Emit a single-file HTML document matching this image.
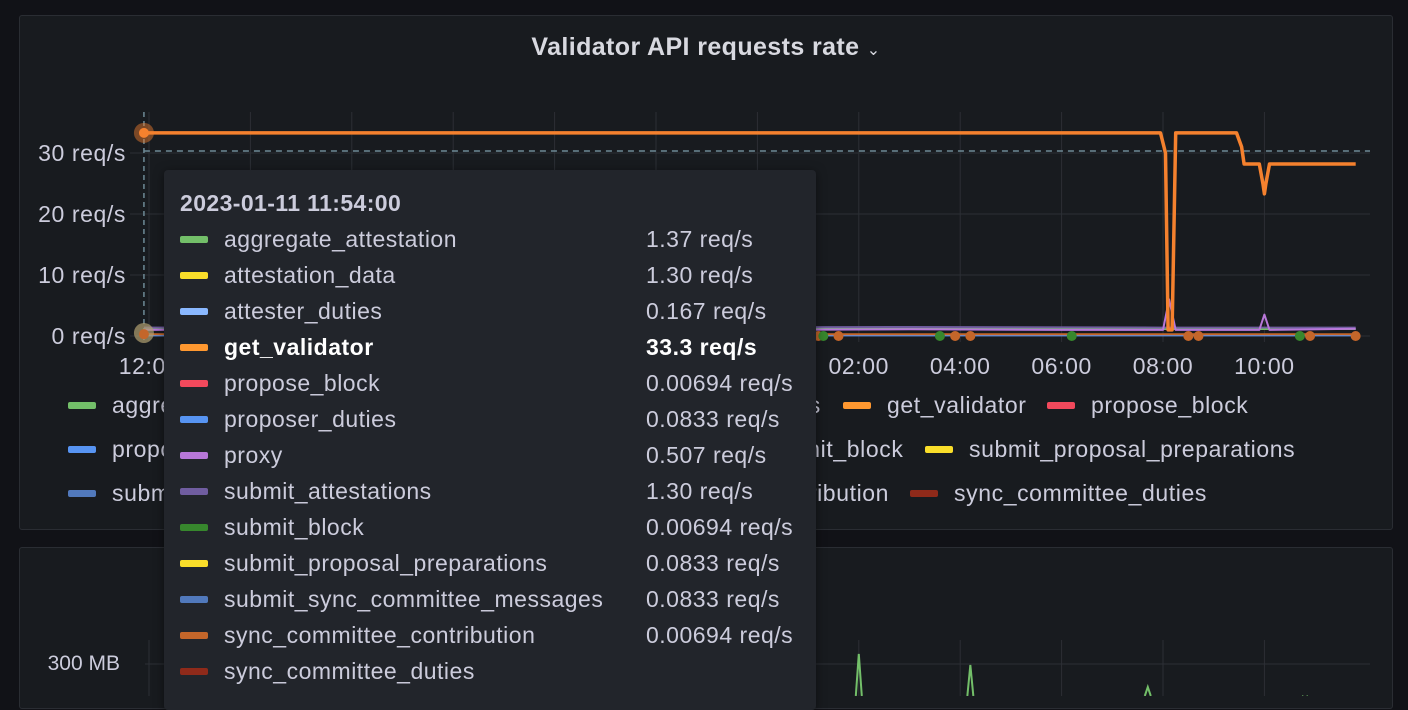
<!DOCTYPE html>
<html><head><meta charset="utf-8">
<style>
html,body{margin:0;padding:0;width:1408px;height:696px;overflow:hidden;background:#111217;font-family:"Liberation Sans",sans-serif;color:#ccccdc}
.panel{position:absolute;background:#181b1f;border:1px solid #2a2d33;border-radius:3px}
.title{position:absolute;top:17px;left:0;width:1372px;text-align:center;font-size:25px;letter-spacing:0.4px;font-weight:bold;color:#d8d9e0}
.leg{position:absolute;font-size:23px;letter-spacing:0.6px;color:#ccccdc;white-space:nowrap;display:flex;align-items:center}
.leg i{display:inline-block;width:28px;height:7px;border-radius:2px;margin-right:16px}
.tt{position:absolute;left:164px;top:170px;width:652px;height:540px;background:#22252b;border-radius:4px;box-shadow:0 2px 10px rgba(0,0,0,.5)}
.tt .h{position:absolute;left:16px;top:20px;font-size:23px;letter-spacing:0.4px;font-weight:bold;color:#ccccdc}
.row{position:absolute;left:16px;font-size:23px;letter-spacing:0.5px;color:#ccccdc;display:flex;align-items:center;white-space:nowrap}
.row i{display:inline-block;width:28px;height:7px;border-radius:2px;margin-right:16px}
.row .v{position:absolute;left:466px}
.row.b{color:#fff;font-weight:bold}
</style></head><body>
<div class="panel" style="left:19px;top:15px;width:1372px;height:513px">
  <div class="title">Validator API requests rate <span style="font-size:16px;font-weight:normal">&#8964;</span></div>
</div>
<div class="panel" style="left:19px;top:547px;width:1372px;height:160px"></div>
<svg id="chart" width="1408" height="696" style="position:absolute;left:0;top:0"></svg>
<div id="legend"></div>
<div class="tt">
  <div class="h">2023-01-11 11:54:00</div>
  <div id="ttrows"></div>
</div>
<script>
const seriesNames=["aggregate_attestation","attestation_data","attester_duties","get_validator","propose_block","proposer_duties","proxy","submit_attestations","submit_block","submit_proposal_preparations","submit_sync_committee_messages","sync_committee_contribution","sync_committee_duties"];
const seriesColors=["#73bf69","#fade2a","#8ab8ff","#ff9830","#f2495c","#5794f2","#b877d9","#705da0","#37872d","#fade2a","#5179bc","#c4662a","#8f2a1a"];
const tooltipValues=["1.37 req/s","1.30 req/s","0.167 req/s","33.3 req/s","0.00694 req/s","0.0833 req/s","0.507 req/s","1.30 req/s","0.00694 req/s","0.0833 req/s","0.0833 req/s","0.00694 req/s",""];
const yTicks=[0,10,20,30];
const xTickLabels=["12:00","14:00","16:00","18:00","20:00","22:00","00:00","02:00","04:00","06:00","08:00","10:00"];
const getValidatorHours=[-0.1,19.95,20.05,20.1,20.18,20.25,20.35,21.45,21.55,21.6,21.9,21.97,22.0,22.03,22.1,23.8];
const getValidatorValues=[33.3,33.3,30,1,1,33.3,33.3,33.3,31,28.2,28.2,25,23.3,25,28.2,28.2];
const proxyHours=[-0.1,3,6,9,12,15,18,20.0,20.12,20.25,21.9,22.0,22.1,23.8];
const proxyValues=[1.0,1.1,1.0,1.2,1.0,1.1,1.0,1.0,6.0,1.0,1.0,3.5,1.0,1.2];
const attHours=[-0.1,5,10,15,20,23.8];
const attValues=[1.3,1.4,1.3,1.4,1.3,1.3];
const lowHours=[-0.1,23.8];
const lowValues=[0.1,0.1];
const contribDotHours=[13.2,13.6,15.9,16.2,20.5,20.7,22.9,23.8];
const blockDotHours=[13.3,15.6,18.2,22.7];
const memTicks=["300 MB"];
const memSpikeHours=[14.0,16.2,19.7,22.8];
const memSpikeValues=[320,310,290,280];

const X0=149,PXH=50.7,Y0=336,PXU=6.1;
const xs=h=>X0+h*PXH, ys=v=>Y0-v*PXU;
const svg=document.getElementById('chart');const NS="http://www.w3.org/2000/svg";
function mk(t,a,p){const e=document.createElementNS(NS,t);for(const k in a)e.setAttribute(k,a[k]);(p||svg).appendChild(e);return e;}
yTicks.forEach(v=>{const l=mk('line',{x1:130,x2:1370,y1:ys(v),y2:ys(v),stroke:'#2c2f35'});

const t=mk('text',{x:126,y:ys(v)+8,'text-anchor':'end','font-size':23,'letter-spacing':0.6,fill:'#ccccdc'});t.textContent=v+' req/s';
});
xTickLabels.forEach((s,i)=>{const x=xs(i*2);const l=mk('line',{x1:x,x2:x,y1:112,y2:342,stroke:'#2c2f35'});

const t=mk('text',{x:x,y:374,'text-anchor':'middle','font-size':23,'letter-spacing':0.6,fill:'#ccccdc'});t.textContent=s;

const g=mk('line',{x1:x,x2:x,y1:640,y2:696,stroke:'#2c2f35'});});
const mg=mk('line',{x1:145,x2:1370,y1:664,y2:664,stroke:'#2c2f35'});
const mt=mk('text',{x:120,y:670,'text-anchor':'end','font-size':21,fill:'#ccccdc'});mt.textContent=memTicks[0];

memSpikeHours.forEach((h,i)=>{const x=xs(h);const top=664+(300-memSpikeValues[i])*0.5+(320-memSpikeValues[i])*0.6;
const p=mk('path',{d:`M${x-3} 696 L${x} ${top} L${x+3} 696`,stroke:'#73bf69','stroke-width':2,fill:'none'});
});
function line(hs,vs,c,w,n){const d=hs.map((h,i)=>(i?'L':'M')+xs(h).toFixed(1)+' '+ys(vs[i]).toFixed(1)).join(' ');
const p=mk('path',{d:d,stroke:c,'stroke-width':w,fill:'none','stroke-linejoin':'round'});}
line(lowHours,lowValues,'#5794f2',2,'low-series-line');
line(lowHours,[0.3,0.3],'#c4662a',2,'contribution-line');
line(attHours,attValues,'#705da0',3,'submit-attestations-line');
line(attHours,attValues.map(v=>v-0.2),'#73bf69',1.5,'aggregate-attestation-line');
line(proxyHours,proxyValues,'#b877d9',2,'proxy-line');
line(getValidatorHours,getValidatorValues,'#f5812e',3.5,'get-validator-line');
contribDotHours.forEach(h=>{const c=mk('circle',{cx:xs(h),cy:ys(0),r:5,fill:'#c4662a'});});
blockDotHours.forEach(h=>{const c=mk('circle',{cx:xs(h),cy:ys(0),r:5,fill:'#37872d'});});
const hx=xs(-0.1);
const cv=mk('line',{x1:hx,x2:hx,y1:112,y2:340,stroke:'#6e8a96','stroke-dasharray':'5 4','stroke-width':1.5});
const ch=mk('line',{x1:hx,x2:1370,y1:151,y2:151,stroke:'#6e8a96','stroke-dasharray':'6 5','stroke-width':1.5});
const h1=mk('circle',{cx:hx,cy:ys(33.3),r:10,fill:'#f5812e','fill-opacity':0.45});
const h2=mk('circle',{cx:hx,cy:ys(33.3),r:5,fill:'#f5812e'});
const h3=mk('circle',{cx:hx,cy:ys(0.5),r:10,fill:'#b0a070','fill-opacity':0.7});
const h4=mk('circle',{cx:hx,cy:ys(0.3),r:5,fill:'#c4662a'});
const legendX=[68,500,821,843,1047, 68,330,480,903,925, 68,889,910];
const legendAnchor=["L","L","R","L","L","L","L","L","R","L","L","R","L"];
const legendTop=[406,406,406,406,406,450,450,450,450,450,494,494,494];
const lg=document.getElementById('legend');
seriesNames.forEach((n,i)=>{const d=document.createElement('div');d.className='leg';


d.style.top=(legendTop[i]-14)+'px';
d.innerHTML='<i style="background:'+seriesColors[i]+'"></i>'+n;lg.appendChild(d);
d.style.left=(legendAnchor[i]=="L"?legendX[i]:legendX[i]-d.offsetWidth)+'px';});
const tr=document.getElementById('ttrows');
seriesNames.forEach((n,i)=>{const d=document.createElement('div');d.className='row'+(i==3?' b':'');


d.style.top=(56+i*36)+'px';
d.innerHTML='<i style="background:'+seriesColors[i]+'"></i>'+n+'<span class="v">'+tooltipValues[i]+'</span>';tr.appendChild(d);});
</script>
</body></html>
